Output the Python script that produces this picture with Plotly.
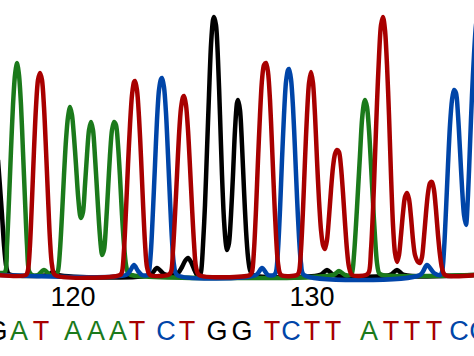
import plotly.graph_objects as go

# ---- data (x in scan units, y = signal intensity) ----
g_x = [-2, 0, 2, 4, 6, 8, 11, 48, 53, 58, 150, 157, 164, 172, 178, 182, 185, 188, 191, 194, 197, 199, 201, 203, 205, 207, 209, 211, 213, 214, 216, 218, 220, 222, 224, 226, 227, 229, 231, 233, 235, 237, 238, 240, 242, 244, 246, 248, 250, 253, 320, 327, 334, 390, 397, 404, 476]
g_y = [115, 88, 60, 30, 10, 2, 0, 0, 3, 0, 0, 7, 1, 0, 2, 8, 14, 17, 13, 6, 0, -2, 3, 30, 70, 125, 180, 230, 255, 258, 250, 215, 160, 100, 55, 30, 25, 32, 60, 100, 145, 172, 175, 165, 130, 85, 45, 18, 5, 0, 0, 5, 0, 0, 5, 0, 0]

a_x = [-2, 0, 5, 7, 9, 11, 13, 15, 17, 19, 21, 23, 25, 27, 29, 32, 38, 44, 50, 56,
       58, 60, 62, 64, 66, 68, 70, 72, 74, 76, 78, 80, 81, 83, 85, 87, 89, 91, 93, 95, 97, 99, 101, 102, 104, 106, 108, 110, 112, 114, 116, 118, 120, 122, 124, 126, 128, 131,
       333, 339, 345, 350, 352, 354, 356, 358, 360, 362, 364, 365, 367, 369, 371, 373, 375, 377, 379, 382, 476]
a_y = [2, 2, 3, 30, 75, 125, 170, 200, 212, 200, 170, 123, 75, 30, 4, 0, 0, 5, 0, 0,
       4, 25, 60, 100, 135, 158, 168, 160, 138, 110, 80, 60, 57, 63, 90, 120, 145, 153, 145, 118, 85, 52, 27, 20, 25, 50, 85, 120, 145, 153, 150, 130, 98, 60, 30, 10, 2, 0,
       0, 4, 0, 0, 2, 20, 50, 85, 120, 155, 172, 175, 168, 145, 110, 72, 38, 12, 2, 0, 0]

c_x = [-2, 126, 130, 134, 138, 142, 148, 149, 151, 153, 155, 157, 159, 161, 162, 164, 166, 168, 170, 172, 174, 177,
       256, 262, 268, 274, 276, 278, 280, 282, 284, 286, 288, 289, 291, 293, 295, 297, 299, 301, 304,
       420, 427, 434, 440, 442, 444, 446, 448, 450, 452, 454, 456, 458, 460, 462, 464, 466, 468, 470, 472, 474, 476, 478]
c_y = [0, 0, 4, 10, 4, 0, 0, 3, 25, 65, 110, 155, 185, 196, 197, 188, 162, 120, 75, 35, 10, 0,
       0, 7, 0, 0, 3, 25, 65, 115, 160, 193, 205, 206, 196, 168, 125, 78, 38, 12, 0,
       0, 10, 2, 0, 3, 25, 65, 110, 150, 175, 185, 182, 160, 125, 88, 60, 50, 80, 130, 180, 220, 250, 262]

t_x = [-2, 26, 28, 30, 32, 34, 36, 38, 40, 42, 44, 46, 48, 50, 52, 55,
       120, 122, 124, 126, 128, 130, 132, 134, 135, 137, 139, 141, 143, 145, 147, 150,
       168, 171, 173, 175, 177, 179, 181, 183, 184, 186, 188, 190, 192, 194, 196, 199,
       250, 252, 254, 256, 258, 260, 262, 264, 266, 268, 270, 272, 274, 276, 278, 281,
       297, 299, 301, 303, 305, 307, 309, 311, 313, 315, 317, 319, 321, 323, 325, 327, 329, 331, 333, 335, 337, 339, 341, 343, 345, 347, 349, 352,
       366, 369, 371, 373, 375, 377, 379, 381, 383, 385, 387, 389, 391, 393, 395, 397, 399, 401, 403, 405, 407, 409, 411, 413, 415, 418, 420, 422, 424, 426, 428, 430, 432, 434, 436, 438, 440, 442, 445, 476]
t_y = [0, 0, 5, 30, 75, 125, 168, 195, 202, 195, 168, 125, 78, 35, 10, 0,
       0, 3, 25, 65, 110, 150, 180, 193, 194, 185, 158, 118, 72, 32, 8, 0,
       0, 3, 25, 60, 100, 140, 167, 178, 179, 170, 145, 108, 68, 32, 8, 0,
       0, 3, 25, 65, 115, 160, 195, 210, 212, 203, 175, 130, 82, 40, 12, 0,
       0, 3, 25, 65, 115, 160, 192, 203, 192, 160, 115, 75, 45, 30, 26, 35, 58, 85, 108, 121, 125, 123, 108, 82, 52, 25, 8, 0,
       0, 3, 25, 65, 118, 172, 218, 250, 258, 245, 210, 160, 100, 50, 22, 13, 20, 40, 62, 78, 82, 76, 58, 35, 20, 13, 12, 18, 38, 62, 82, 92, 93, 85, 65, 40, 20, 7, 0, 0]

base_calls = ["G", "A", "T", "A", "A", "A", "T", "C", "T", "G", "G", "T", "C", "T", "T", "A", "T", "T", "T", "C", "C"]
base_numbers = list(range(117, 138))
base_pos = [-3, 19, 41, 73, 96, 118, 137, 166, 187, 217, 242, 272, 291, 312, 333, 369, 391, 412, 434, 459, 479]

# rows of text below the traces (in signal units below the baseline)
number_row_y = -24
call_row_y = -58

colors = {"A": "#1b7a1b", "C": "#0045a8", "G": "#000000", "T": "#a80000"}
FONT = "Liberation Sans, Arial, sans-serif"

fig = go.Figure()
for bx, by, b in [(g_x, g_y, "G"), (a_x, a_y, "A"), (c_x, c_y, "C"), (t_x, t_y, "T")]:
    fig.add_trace(go.Scatter(x=bx, y=by, mode="lines",
                             line=dict(color=colors[b], width=4.5, shape="spline", smoothing=0.8),
                             hoverinfo="skip", showlegend=False))

tick_pos = [p for p, n in zip(base_pos, base_numbers) if n % 10 == 0]
tick_txt = [str(n) for n in base_numbers if n % 10 == 0]

fig.add_trace(go.Scatter(
    x=tick_pos, y=[number_row_y] * len(tick_pos), mode="text", text=tick_txt,
    textposition="middle center", textfont=dict(size=27, color="black", family=FONT),
    hoverinfo="skip", showlegend=False))

fig.add_trace(go.Scatter(
    x=base_pos, y=[call_row_y] * len(base_pos), mode="text", text=base_calls,
    textposition="middle center",
    textfont=dict(size=27, color=[colors[b] for b in base_calls], family=FONT),
    hoverinfo="skip", showlegend=False))

fig.update_layout(
    width=474, height=356,
    margin=dict(l=0, r=0, t=0, b=0),
    paper_bgcolor="white", plot_bgcolor="white",
    xaxis=dict(range=[0, 474], visible=False, showgrid=False, zeroline=False),
    yaxis=dict(range=[-81, 275], visible=False, showgrid=False, zeroline=False),
)

fig.write_html("out.html", config={"displayModeBar": False, "staticPlot": True},
               post_script="document.body.style.margin='0px';")
